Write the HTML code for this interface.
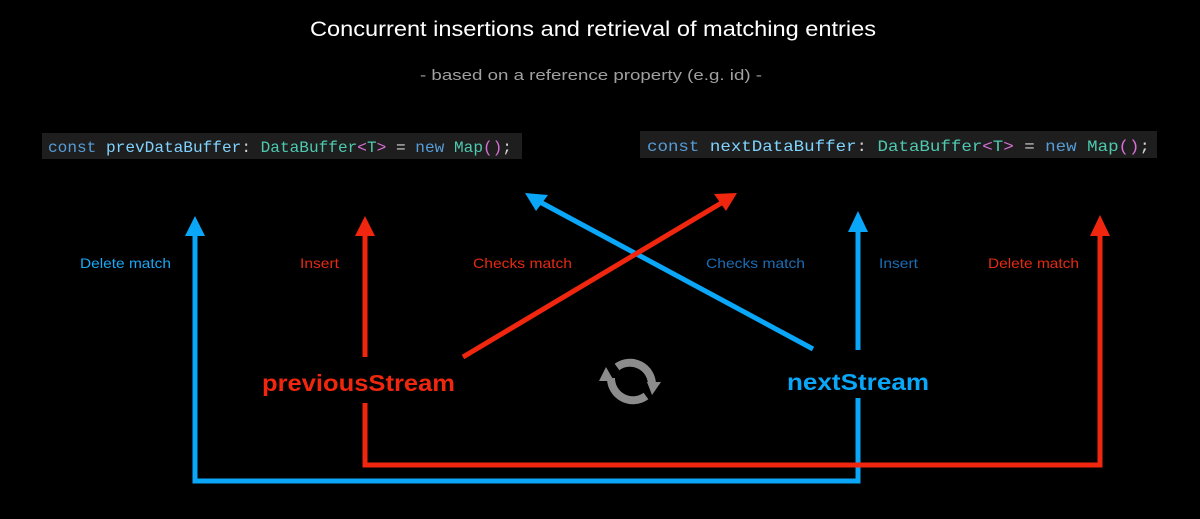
<!DOCTYPE html>
<html><head><meta charset="utf-8"><style>
html,body{margin:0;padding:0;background:#000;}
svg{display:block;}
</style></head><body>
<svg width="1200" height="519" viewBox="0 0 1200 519" xmlns="http://www.w3.org/2000/svg">
<rect width="1200" height="519" fill="#000"/>
<text x="593" y="36" fill="#fff" font-family="Liberation Sans, sans-serif" font-size="21" text-anchor="middle" textLength="566" lengthAdjust="spacingAndGlyphs">Concurrent insertions and retrieval of matching entries</text>
<text x="591" y="80" fill="#a0a0a0" font-family="Liberation Sans, sans-serif" font-size="15" text-anchor="middle" textLength="342" lengthAdjust="spacingAndGlyphs">- based on a reference property (e.g. id) -</text>

<rect x="42" y="133" width="480" height="26" fill="#1e1e1e"/>
<text x="48" y="152" font-family="Liberation Mono, monospace" font-size="16" textLength="464" lengthAdjust="spacingAndGlyphs" xml:space="preserve"><tspan fill="#569cd6">const </tspan><tspan fill="#7fd3ff">prevDataBuffer</tspan><tspan fill="#d4d4d4">: </tspan><tspan fill="#4ec9b0">DataBuffer</tspan><tspan fill="#d670d6">&lt;</tspan><tspan fill="#4ec9b0">T</tspan><tspan fill="#d670d6">&gt;</tspan><tspan fill="#d4d4d4"> = </tspan><tspan fill="#569cd6">new </tspan><tspan fill="#4ec9b0">Map</tspan><tspan fill="#d670d6">()</tspan><tspan fill="#d4d4d4">;</tspan></text>

<rect x="640" y="131" width="517" height="27" fill="#1e1e1e"/>
<text x="647" y="151" font-family="Liberation Mono, monospace" font-size="16" textLength="503" lengthAdjust="spacingAndGlyphs" xml:space="preserve"><tspan fill="#569cd6">const </tspan><tspan fill="#7fd3ff">nextDataBuffer</tspan><tspan fill="#d4d4d4">: </tspan><tspan fill="#4ec9b0">DataBuffer</tspan><tspan fill="#d670d6">&lt;</tspan><tspan fill="#4ec9b0">T</tspan><tspan fill="#d670d6">&gt;</tspan><tspan fill="#d4d4d4"> = </tspan><tspan fill="#569cd6">new </tspan><tspan fill="#4ec9b0">Map</tspan><tspan fill="#d670d6">()</tspan><tspan fill="#d4d4d4">;</tspan></text>

<g font-family="Liberation Sans, sans-serif" font-size="14">
<text x="80" y="268" fill="#1aa7f5" textLength="91" lengthAdjust="spacingAndGlyphs">Delete match</text>
<text x="300" y="268" fill="#e52a12" textLength="39" lengthAdjust="spacingAndGlyphs">Insert</text>
<text x="473" y="268" fill="#e52a12" textLength="99" lengthAdjust="spacingAndGlyphs">Checks match</text>
<text x="706" y="268" fill="#1c6db5" textLength="99" lengthAdjust="spacingAndGlyphs">Checks match</text>
<text x="879" y="268" fill="#1c6db5" textLength="39" lengthAdjust="spacingAndGlyphs">Insert</text>
<text x="988" y="268" fill="#e52a12" textLength="91" lengthAdjust="spacingAndGlyphs">Delete match</text>
</g>

<g fill="none" stroke-width="5" stroke-linejoin="miter">
<polyline points="195,236 195,481 858,481 858,398" stroke="#0aa6f8"/>
<line x1="858" y1="350" x2="858" y2="232" stroke="#0aa6f8"/>
<polyline points="365,403 365,465 1100,465 1100,236" stroke="#f0260e"/>
<line x1="365" y1="357" x2="365" y2="236" stroke="#f0260e"/>
<line x1="813" y1="349" x2="540" y2="202" stroke="#0aa6f8"/>
<line x1="463" y1="357" x2="723" y2="202" stroke="#f0260e"/>
</g>
<polygon points="195,216 185,236 205,236" fill="#0aa6f8"/>
<polygon points="365,216 355,236 375,236" fill="#f0260e"/>
<polygon points="858,211 848,232 868,232" fill="#0aa6f8"/>
<polygon points="1100,215 1090,236 1110,236" fill="#f0260e"/>
<polygon points="525,193 548,195 536,211" fill="#0aa6f8"/>
<polygon points="737,193 714,194 726,211" fill="#f0260e"/>

<text x="262" y="391" fill="#f0260e" font-family="Liberation Sans, sans-serif" font-weight="bold" font-size="23" textLength="193" lengthAdjust="spacingAndGlyphs">previousStream</text>
<text x="787" y="390" fill="#0aa6f8" font-family="Liberation Sans, sans-serif" font-weight="bold" font-size="23" textLength="142" lengthAdjust="spacingAndGlyphs">nextStream</text>

<g fill="none" stroke="#8c8c8c" stroke-width="8">
<path d="M617,367 A22,22 0 0 1 652,385"/>
<path d="M646,396 A22,22 0 0 1 611,378"/>
</g>
<polygon points="647,382 661,382 652,395" fill="#8c8c8c"/>
<polygon points="599,381 614,381 606,367" fill="#8c8c8c"/>
</svg>
</body></html>
